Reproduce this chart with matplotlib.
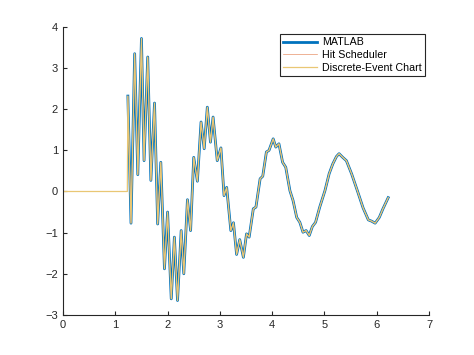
import matplotlib
matplotlib.use("Agg")
import matplotlib.pyplot as plt
import numpy as np

plt.rcParams['font.family'] = ['Liberation Sans', 'DejaVu Sans']

# samples (time, output)
t = [1.23, 1.24, 1.30, 1.37, 1.43, 1.50, 1.55, 1.62, 1.68, 1.75, 1.81, 1.87,
     1.94, 2.00, 2.07, 2.13, 2.19, 2.26, 2.31, 2.38, 2.44, 2.50, 2.57, 2.64,
     2.70, 2.76, 2.82, 2.87, 2.95, 3.02, 3.08, 3.13, 3.21, 3.26, 3.32, 3.38,
     3.45, 3.51, 3.56, 3.64, 3.69, 3.77, 3.82, 3.89, 3.94, 4.02, 4.07, 4.13,
     4.20, 4.26, 4.34, 4.40, 4.47, 4.53, 4.59, 4.65, 4.71, 4.77, 4.83, 4.91,
     5.01, 5.09, 5.16, 5.23, 5.28, 5.35, 5.42, 5.52, 5.63, 5.74, 5.84, 5.90,
     5.97, 6.05, 6.12, 6.22]
y = [0.0, 2.32, -0.77, 3.35, 0.41, 3.72, 0.75, 3.27, 0.27, 2.15, -0.79, 0.71,
     -1.88, -0.50, -2.61, -1.11, -2.65, -0.95, -2.00, -0.20, -0.95, 0.83, 0.25, 1.69,
     1.04, 2.05, 1.20, 1.81, 0.75, 1.06, -0.10, 0.10, -0.95, -0.76, -1.53, -1.17,
     -1.60, -1.03, -1.11, -0.42, -0.38, 0.31, 0.37, 0.96, 1.00, 1.28, 1.08, 1.16,
     0.71, 0.59, 0.02, -0.22, -0.63, -0.75, -0.99, -0.95, -1.07, -0.85, -0.75, -0.38,
     0.02, 0.43, 0.67, 0.85, 0.92, 0.83, 0.75, 0.43, 0.02, -0.40, -0.69, -0.72,
     -0.77, -0.63, -0.42, -0.15]

# the discrete-event chart output also holds zero before the first event
t_de = [0.0] + t
y_de = [0.0] + y

labels = ['MATLAB', 'Hit Scheduler', 'Discrete-Event Chart']

fig = plt.figure(figsize=(4.74, 3.55), dpi=100)
ax = fig.add_axes([0.133, 0.113, 0.772, 0.811])

ax.plot(t[1:], y[1:], color='#0072BD', linewidth=2.0, label=labels[0])
ax.plot(t[1:], y[1:], color='#E8936A', linewidth=0.5, label=labels[1])
ax.plot(t_de, y_de, color='#E9C774', linewidth=0.9, label=labels[2])

ax.set_xlim(0, 7)
ax.set_ylim(-3, 4)
ax.set_xticks(range(0, 8))
ax.set_yticks(range(-3, 5))
ax.spines['top'].set_visible(False)
ax.spines['right'].set_visible(False)
for s in ['left', 'bottom']:
    ax.spines[s].set_color('#262626')
    ax.spines[s].set_linewidth(0.8)
ax.tick_params(direction='in', length=3, width=0.8, colors='#262626', labelsize=8)

leg = ax.legend(loc='upper right', bbox_to_anchor=(0.99, 0.975), fontsize=7.7,
                fancybox=False, framealpha=1, edgecolor='#262626', handlelength=3.2,
                borderpad=0.3, labelspacing=0.25, handletextpad=0.5, borderaxespad=0)
leg.get_frame().set_linewidth(0.8)

fig.savefig('out.png', dpi=100)
